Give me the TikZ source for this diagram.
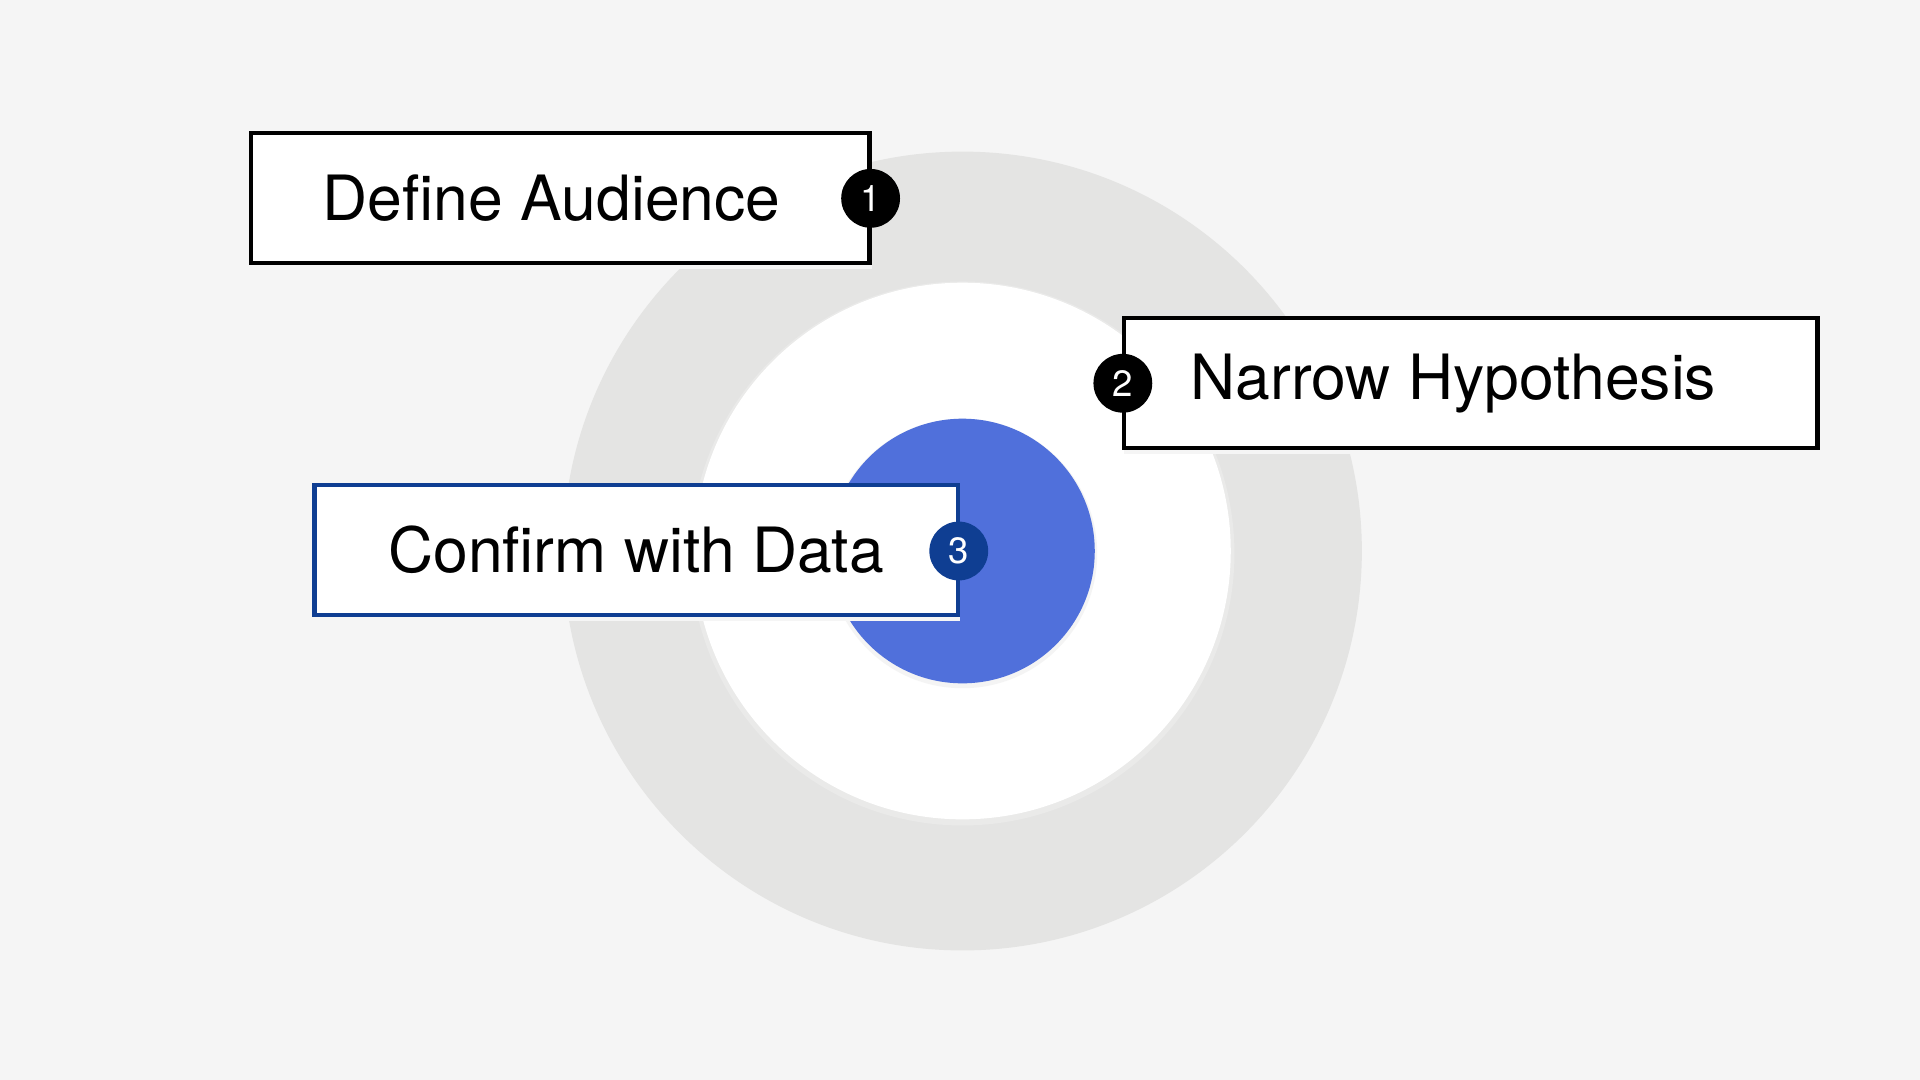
\documentclass[tikz,border=0pt]{standalone}
\usepackage{fontspec}
\setmainfont{TeX Gyre Heros}
\definecolor{bg}{HTML}{F5F5F5}
\definecolor{ring}{HTML}{E4E4E3}
\definecolor{core}{HTML}{5070DB}
\definecolor{navy}{HTML}{0F3E92}
\begin{document}
\begin{tikzpicture}[x=0.01cm,y=-0.01cm,
  box/.style={draw=black,line width=1pt,fill=white,minimum height=1.06cm,inner sep=0pt,font=\fontsize{14.5}{17}\selectfont},
  badge/.style={circle,fill=black,text=white,minimum size=0.48cm,inner sep=0pt,font=\fontsize{8.5}{10}\selectfont}]
\fill[bg] (0,0) rectangle (1568,882);
\useasboundingbox (0,0) rectangle (1568,882);
\fill[ring] (786,450) circle (3.26cm);
\fill[black!6,opacity=0.5] (786,452) circle (2.22cm);
\fill[white] (786,450) circle (2.19cm);
\fill[black!10,opacity=0.4] (786,452) circle (1.10cm);
\fill[core] (786,450) circle (1.08cm);
\fill[black!4] (205,109) rectangle (712,220);
\node[box,minimum width=5.05cm] (b1) at (457.5,161.5) {\hspace*{-0.14cm}Define Audience};
\node[badge] (n1) at (711,162) {1};
\fill[black!4] (918,261) rectangle (1486,371);
\node[box,minimum width=5.66cm] (b2) at (1201,313) {\hspace*{-0.28cm}Narrow Hypothesis};
\node[badge] (n2) at (917,313) {2};
\fill[black!4] (257,397) rectangle (784,507);
\node[box,draw=navy,minimum width=5.25cm] (b3) at (519.5,449) {Confirm with Data};
\node[badge,fill=navy] (n3) at (783,450) {3};
\end{tikzpicture}
\end{document}
